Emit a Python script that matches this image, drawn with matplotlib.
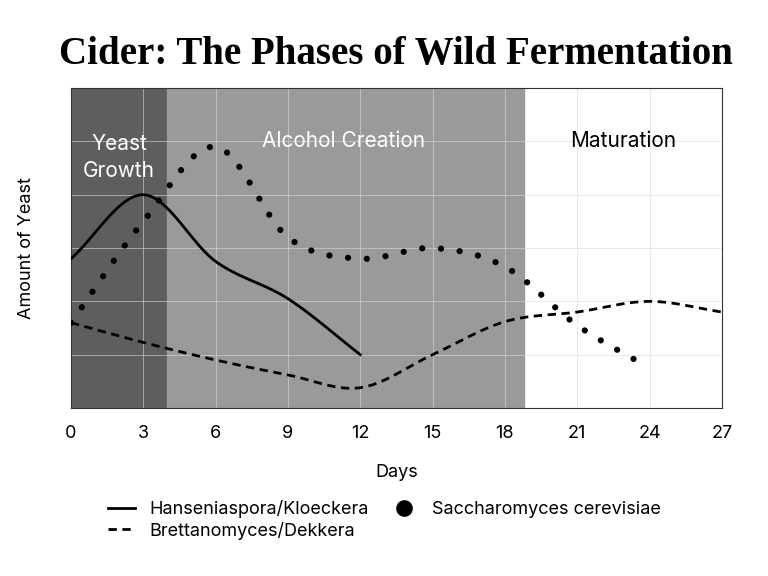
import numpy as np
import matplotlib
matplotlib.use("Agg")
import matplotlib.pyplot as plt
from matplotlib.lines import Line2D

plt.rcParams['font.family'] = ['Inter', 'DejaVu Sans']

days_h = [0, 3, 6, 9, 12]
hanse = [2.8, 4.0, 2.75, 2.05, 1.0]
days_s = [0, 3, 6, 9, 12, 15, 18, 21, 24]
sacch = [1.6, 3.5, 4.9, 3.2, 2.8, 3.0, 2.65, 1.55, 0.75]
days_b = [0, 3, 6, 9, 12, 15, 18, 21, 24, 27]
brett = [1.6, 1.23, 0.9, 0.62, 0.38, 1.0, 1.62, 1.8, 2.0, 1.8]
phases = ["Yeast\nGrowth", "Alcohol Creation", "Maturation"]
phase_bounds = [0, 4, 18.8, 27]

def smooth(x, y, n=30):
    x = np.asarray(x, float); y = np.asarray(y, float)
    xp = np.concatenate([[2*x[0]-x[1]], x, [2*x[-1]-x[-2]]])
    yp = np.concatenate([[2*y[0]-y[1]], y, [2*y[-1]-y[-2]]])
    X, Y = [], []
    for i in range(1, len(xp)-2):
        t = np.linspace(0, 1, n, endpoint=False)
        for arr, out in ((xp, X), (yp, Y)):
            p0, p1, p2, p3 = arr[i-1:i+3]
            out.extend(0.5*((2*p1) + (-p0+p2)*t + (2*p0-5*p1+4*p2-p3)*t**2 + (-p0+3*p1-3*p2+p3)*t**3))
    X.append(x[-1]); Y.append(y[-1])
    return np.array(X), np.array(Y)

fig = plt.figure(figsize=(7.68, 5.76), dpi=100)
ax = fig.add_axes([0.0924, 0.2917, 0.8476, 0.5553])
ax.axvspan(phase_bounds[0], phase_bounds[1], color="#5e5e5e", zorder=0)
ax.axvspan(phase_bounds[1], phase_bounds[2], color="#9a9a9a", zorder=0)
ax.set_xlim(0, 27); ax.set_ylim(0, 6)
ax.set_xticks(range(0, 28, 3))
ax.set_yticks(range(0, 7))
ax.set_yticklabels([])
ax.tick_params(length=0, labelsize=13, pad=12)
ax.grid(True, color="#d8d8d8", lw=0.7, alpha=0.6, zorder=0.5)
for s in ax.spines.values():
    s.set_color("#333333"); s.set_linewidth(0.8)

x, y = smooth(days_h, hanse); ax.plot(x, y, color="black", lw=2, zorder=3)
x, y = smooth(days_s, sacch)
ax.plot(x, y, color="black", lw=4.5, linestyle=(0, (0.01, 3.0)), dash_capstyle="round", zorder=3)
x, y = smooth(days_b, brett); ax.plot(x, y, color="black", lw=2, linestyle=(0, (3, 2)), zorder=3)

ax.text(2, 4.7, phases[0], ha="center", va="center", color="white", fontsize=15, linespacing=1.4)
ax.text(11.3, 5.0, phases[1], ha="center", va="center", color="white", fontsize=15)
ax.text(22.9, 5.0, phases[2], ha="center", va="center", color="black", fontsize=15)

ax.set_xlabel("Days", fontsize=13, labelpad=16)
ax.set_ylabel("Amount of Yeast", fontsize=13, labelpad=14)
fig.text(0.515, 0.905, "Cider: The Phases of Wild Fermentation", fontsize=28, fontweight="bold",
         family="Liberation Serif", ha="center", va="center")

handles = [Line2D([], [], color="black", lw=2),
           Line2D([], [], color="black", lw=2, linestyle=(0, (3, 2))),
           Line2D([], [], color="black", marker="o", markersize=11, lw=0)]
labels = ["Hanseniaspora/Kloeckera", "Brettanomyces/Dekkera", "Saccharomyces cerevisiae"]
fig.legend(handles, labels, ncol=2, loc="upper center", bbox_to_anchor=(0.5, 0.16),
           frameon=False, fontsize=13, handlelength=1.5, columnspacing=1.2, labelspacing=0.2)
fig.savefig("out.png", dpi=100)
